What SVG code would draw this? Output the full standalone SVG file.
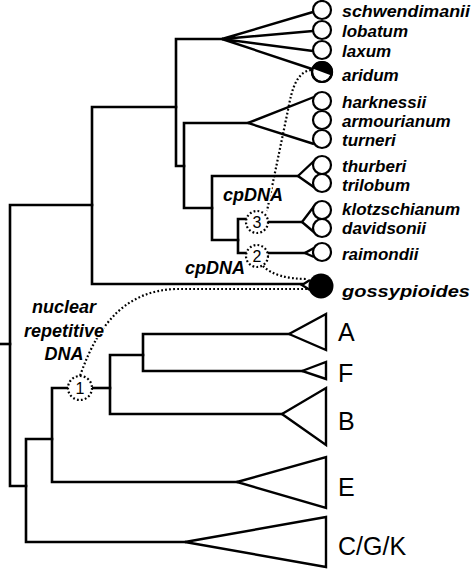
<svg xmlns="http://www.w3.org/2000/svg" width="474" height="569" viewBox="0 0 474 569">
<style>
.br{fill:none;stroke:#000;stroke-width:2.6;stroke-linecap:square;stroke-linejoin:miter}
.fan{fill:none;stroke:#000;stroke-width:2.4;stroke-linejoin:miter}
.tri{fill:#fff;stroke:#000;stroke-width:2.4;stroke-linejoin:miter}
.sp{fill:#fff;stroke:#000;stroke-width:2.2}
.dot{fill:none;stroke:#000;stroke-width:2.2;stroke-dasharray:1.8 2.2}
.dc{fill:#fff;stroke:#000;stroke-width:2.2;stroke-dasharray:1.8 2.2}
.lab{font-family:"Liberation Sans",Arial,sans-serif;font-weight:bold;font-style:italic;font-size:17px;fill:#000}
.ann{font-family:"Liberation Sans",Arial,sans-serif;font-weight:bold;font-style:italic;font-size:18px;fill:#000;stroke:#fff;stroke-width:3px;paint-order:stroke}
.big{font-family:"Liberation Sans",Arial,sans-serif;font-size:25px;fill:#000}
.num{font-family:"Liberation Sans",Arial,sans-serif;font-size:16px;fill:#000;text-anchor:middle}
</style>
<g id="connectors">
<polyline class="br" points="0,344 10,344"/>
<polyline class="br" points="92,205 10,205 10,486 26,486"/>
<polyline class="br" points="52,439 26,439 26,542 185,542"/>
<polyline class="br" points="68,388 52,388 52,482 237,482"/>
<polyline class="br" points="92,388 110,388"/>
<polyline class="br" points="143,355 110,355 110,414 282,414"/>
<polyline class="br" points="289,334 143,334 143,371 302,371"/>
<polyline class="br" points="176,107 92,107 92,284 302,284"/>
<polyline class="br" points="222,39 176,39 176,166 184,166"/>
<polyline class="br" points="248,123 184,123 184,208 212,208"/>
<polyline class="br" points="298,176 212,176 212,240 238,240"/>
<polyline class="br" points="246,219 238,219 238,253 246,253"/>
<polyline class="br" points="268,222 302,222"/>
<polyline class="br" points="268,253 305,253"/>
<path class="dot" d="M311 70 C297 72 292 88 288 110 L267 211"/>
<path class="dot" d="M263 266 Q276 279 308 279"/>
<path class="dot" d="M307 289 L175 289 C130 291 100 318 80 376"/>
</g>
<g id="event3"><circle class="dc" cx="257" cy="222" r="11"/><text class="num" x="257" y="228">3</text></g>
<g id="event2"><circle class="dc" cx="257" cy="256" r="11"/><text class="num" x="257" y="262">2</text></g>
<g id="event1"><circle class="dc" cx="80" cy="388" r="12"/><text class="num" x="80" y="394">1</text></g>
<g id="clade-schwendimanii">
<polyline class="fan" points="313,12 222,39 313,31"/>
<polyline class="fan" points="313,51 222,39 312,69"/>
</g>
<g id="clade-harknessii"><polyline class="fan" points="314,97 248,123 314,144"/></g>
<g id="clade-thurberi"><polyline class="fan" points="315,160 298,176 315,188"/></g>
<g id="clade-klotzschianum"><polyline class="fan" points="315,205 302,222 315,233"/></g>
<g id="clade-raimondii"><polyline class="fan" points="314,248 305,253 314,257"/></g>
<g id="clade-gossypioides"><polyline class="fan" points="310,280 302,285 310,290"/></g>
<g id="schwendimanii"><circle class="sp" cx="322" cy="10" r="9"/><text class="lab" x="342" y="17" textLength="128" lengthAdjust="spacingAndGlyphs">schwendimanii</text></g>
<g id="lobatum"><circle class="sp" cx="322" cy="30" r="9"/><text class="lab" x="342" y="37">lobatum</text></g>
<g id="laxum"><circle class="sp" cx="322" cy="50" r="9"/><text class="lab" x="342" y="57">laxum</text></g>
<g id="aridum"><circle class="sp" cx="322" cy="72" r="10"/><path d="M312.6 68.6 A10 10 0 0 1 331.4 75.4 Z" fill="#000"/><circle cx="322" cy="72" r="10" fill="none" stroke="#000" stroke-width="2.2"/><text class="lab" x="342" y="81" font-size="19">aridum</text></g>
<g id="harknessii"><circle class="sp" cx="322" cy="101" r="9"/><text class="lab" x="342" y="108">harknessii</text></g>
<g id="armourianum"><circle class="sp" cx="322" cy="120" r="9"/><text class="lab" x="342" y="127">armourianum</text></g>
<g id="turneri"><circle class="sp" cx="322" cy="139" r="9"/><text class="lab" x="342" y="146">turneri</text></g>
<g id="thurberi"><circle class="sp" cx="322" cy="165" r="9"/><text class="lab" x="342" y="172">thurberi</text></g>
<g id="trilobum"><circle class="sp" cx="322" cy="183" r="9"/><text class="lab" x="342" y="191">trilobum</text></g>
<g id="klotzschianum"><circle class="sp" cx="322" cy="210" r="9"/><text class="lab" x="342" y="215">klotzschianum</text></g>
<g id="davidsonii"><circle class="sp" cx="322" cy="228" r="9"/><text class="lab" x="342" y="234">davidsonii</text></g>
<g id="raimondii"><circle class="sp" cx="322" cy="252" r="9"/><text class="lab" x="342" y="260">raimondii</text></g>
<g id="gossypioides"><circle cx="321" cy="286" r="12.5" fill="#000"/><text class="lab" x="342" y="297" font-size="23" textLength="128" lengthAdjust="spacingAndGlyphs">gossypioides</text></g>
<g id="A"><polygon class="tri" points="289,334 326,314 326,350"/><text class="big" x="338" y="341">A</text></g>
<g id="F"><polygon class="tri" points="302,371 326,362 326,379"/><text class="big" x="338" y="382">F</text></g>
<g id="B"><polygon class="tri" points="282,414 326,388 326,445"/><text class="big" x="338" y="430">B</text></g>
<g id="E"><polygon class="tri" points="237,482 326,457 326,508"/><text class="big" x="338" y="496">E</text></g>
<g id="CGK"><polygon class="tri" points="185,542 326,517 326,567"/><text class="big" x="338" y="555">C/G/K</text></g>
<g id="labels">
<text class="ann" x="223" y="201">cpDNA</text>
<text class="ann" x="185" y="274">cpDNA</text>
<text class="ann" x="64" y="313" text-anchor="middle">nuclear</text>
<text class="ann" x="64" y="337" text-anchor="middle">repetitive</text>
<text class="ann" x="64" y="360" text-anchor="middle">DNA</text>
</g>
</svg>
